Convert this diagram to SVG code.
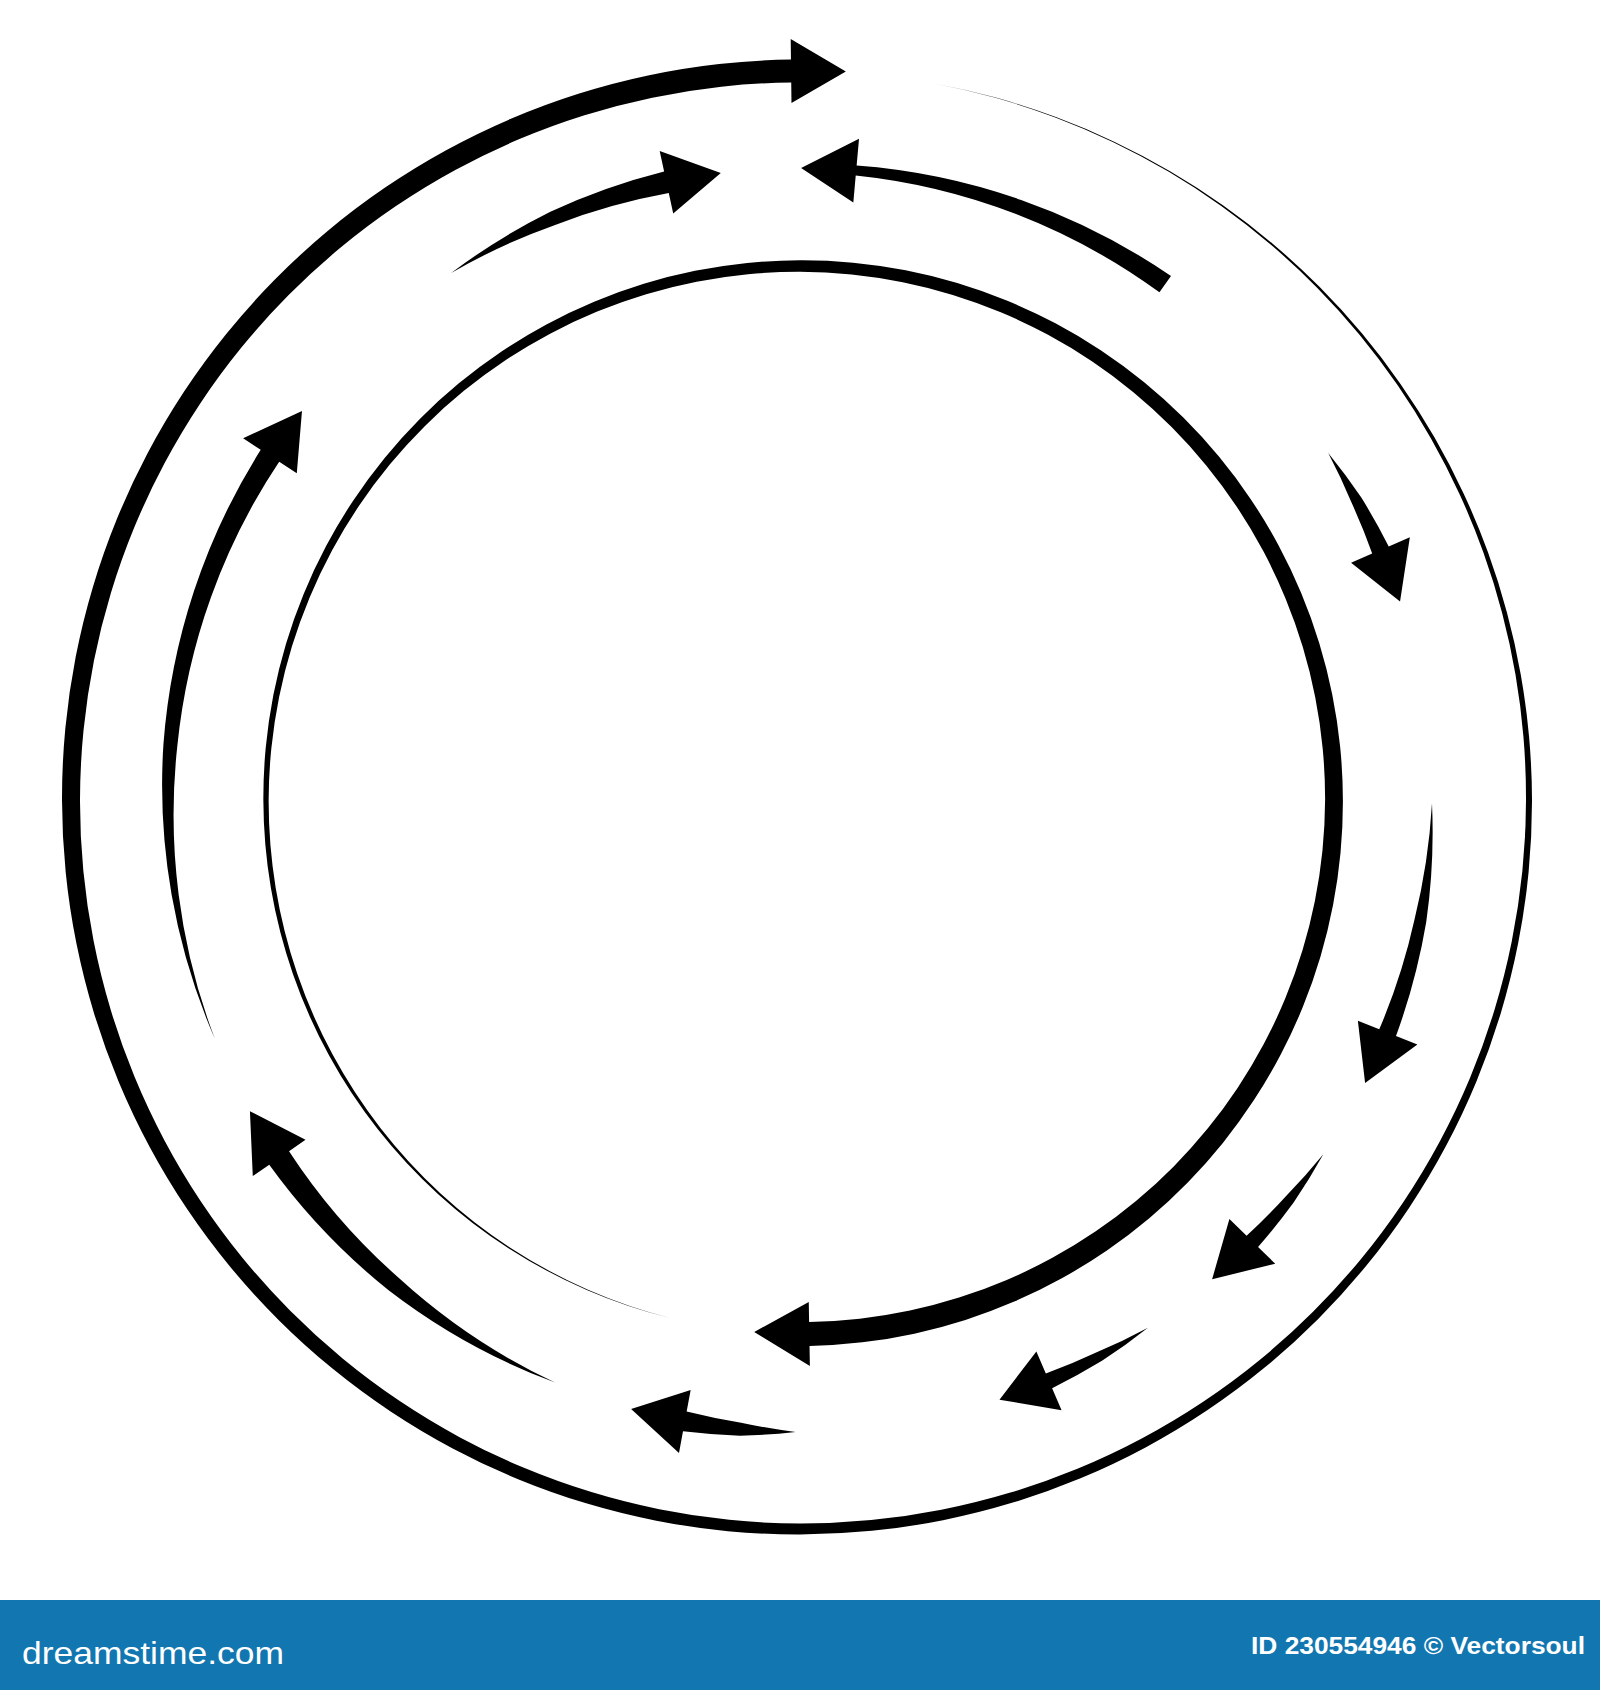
<svg xmlns="http://www.w3.org/2000/svg" width="1600" height="1690" viewBox="0 0 1600 1690">
<style>
.arr{fill:#000;stroke:none}
.foot{fill:#fff;font-family:"Liberation Sans","DejaVu Sans",sans-serif}
</style>
<rect x="0" y="0" width="1600" height="1690" fill="#fff"/>
<g id="outer-ring">
<path class="arr" d="M934.1,83.4 A731,731 0 0 1 1532,800 A733,733 0 0 1 800,1534.5 A736,736 0 0 1 62,800 A739,739 0 0 1 790.95,59.56 L790.70,39.06 L845.84,71.44 L791.48,103.05 L791.23,82.55 A719,719 0 0 0 80,800 A722,722 0 0 0 800,1523.5 A725,725 0 0 0 1526,800 A727,727 0 0 0 934.1,83.4 Z"/>
</g>
<g id="inner-ring">
<path class="arr" d="M670.81,1318.14 A535,535 0 0 1 263.35,800 A538,538 0 0 1 800,260.22 A541,541 0 0 1 1342.9,800 A544,544 0 0 1 809.53,1345.92 L809.88,1365.91 L754.20,1332.03 L808.76,1301.92 L809.11,1321.92 A524,524 0 0 0 1325.1,800 A527,527 0 0 0 800,271.78 A530,530 0 0 0 268.65,800 A533,533 0 0 0 670.81,1318.14 Z"/>
</g>
<g id="middle-arrows">
<g id="arrow-top-left"><path class="arr" d="M451.17,272.98 A636,636 0 0 1 550.32,211.80 A641,641 0 0 1 664.12,171.52 L659.68,150.99 L720.79,172.99 L673.21,213.55 L668.77,193.02 A623,623 0 0 0 555.79,224.69 A628,628 0 0 0 451.17,272.98 Z"/></g>
<g id="arrow-top-right"><path class="arr" d="M1170.99,276.04 A639.5,639.5 0 0 0 856.62,165.52 L859.02,138.63 L801.10,168.00 L853.33,202.38 L855.73,175.48 A624.5,624.5 0 0 1 1159.43,292.36 Z"/></g>
<g id="arrow-right-upper"><path class="arr" d="M1328.23,453.02 A635,635 0 0 1 1361.31,497.61 A639,639 0 0 1 1388.73,546.45 L1409.85,537.35 L1400.04,601.56 L1351.07,562.67 L1372.19,553.57 A625,625 0 0 0 1351.62,502.83 A629,629 0 0 0 1328.23,453.02 Z"/></g>
<g id="arrow-right-lower"><path class="arr" d="M1431.99,803.31 A635,635 0 0 1 1426.28,921.74 A640,640 0 0 1 1396.01,1035.97 L1417.37,1044.43 L1365.10,1082.98 L1357.87,1020.87 L1379.25,1029.34 A624,624 0 0 0 1414.50,919.45 A629,629 0 0 0 1431.99,803.31 Z"/></g>
<g id="arrow-bottom-right"><path class="arr" d="M1323.33,1154.34 A634.5,634.5 0 0 1 1293.64,1202.60 A638.5,638.5 0 0 1 1258.04,1246.99 L1275.22,1263.75 L1212.13,1279.14 L1229.41,1219.05 L1246.59,1235.81 A625.5,625.5 0 0 0 1285.89,1196.28 A629.5,629.5 0 0 0 1323.33,1154.34 Z"/></g>
<g id="arrow-bottom"><path class="arr" d="M1147.90,1327.63 A634.5,634.5 0 0 1 1101.99,1360.87 A638.5,638.5 0 0 1 1052.12,1388.25 L1061.58,1410.31 L999.49,1399.69 L1036.36,1351.48 L1045.82,1373.54 A625.5,625.5 0 0 0 1097.25,1352.06 A629.5,629.5 0 0 0 1147.90,1327.63 Z"/></g>
<g id="arrow-bottom-left"><path class="arr" d="M795.59,1431.99 A635,635 0 0 1 739.91,1435.67 A640,640 0 0 1 683.00,1431.25 L678.99,1452.88 L631.10,1409.01 L690.66,1389.95 L686.65,1411.58 A624,624 0 0 0 741.13,1422.72 A629,629 0 0 0 795.59,1431.99 Z"/></g>
<g id="arrow-left-lower"><path class="arr" d="M555.09,1382.62 A636,636 0 0 1 388.61,1290.27 A642,642 0 0 1 269.26,1164.77 L252.78,1176.10 L249.93,1111.21 L305.52,1139.85 L289.04,1151.17 A622,622 0 0 0 398.90,1278.01 A628,628 0 0 0 555.09,1382.62 Z"/></g>
<g id="arrow-left"><path class="arr" d="M214.85,1038.80 A635.5,635.5 0 0 1 163.43,744.30 A641,641 0 0 1 260.73,449.80 L243.12,438.36 L301.98,410.90 L296.80,473.22 L279.19,461.78 A623,623 0 0 0 177.38,745.52 A628.5,628.5 0 0 0 214.85,1038.80 Z"/></g>
</g>
<g id="footer">
<rect x="0" y="1600" width="1600" height="90" fill="#1277b0"/>
<text class="foot" x="22" y="1664" font-size="32" textLength="262" lengthAdjust="spacingAndGlyphs">dreamstime.com</text>
<text class="foot" x="1251" y="1654" font-size="23" font-weight="bold" textLength="334" lengthAdjust="spacingAndGlyphs">ID 230554946 © Vectorsoul</text>
</g>
</svg>
